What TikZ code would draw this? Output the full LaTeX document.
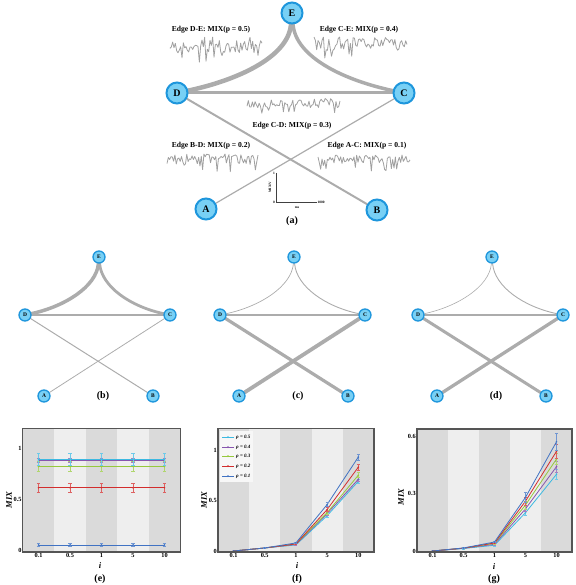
\documentclass[tikz,border=0pt]{standalone}
\usepackage{fontspec}
\setmainfont{Liberation Serif}
\definecolor{vring}{RGB}{30,150,220}
\definecolor{vfill}{RGB}{120,208,245}
\definecolor{egray}{RGB}{172,172,172}
\definecolor{sgray}{RGB}{160,160,160}
\definecolor{cA}{RGB}{60,185,225}
\definecolor{cB}{RGB}{135,85,175}
\definecolor{cC}{RGB}{150,200,60}
\definecolor{cD}{RGB}{210,45,45}
\definecolor{cE}{RGB}{65,115,195}
\definecolor{sdark}{RGB}{218,218,218}
\definecolor{slight}{RGB}{238,238,238}
\definecolor{framec}{RGB}{85,85,85}
\newcommand{\trace}[6]{\pgfmathsetseed{#6}\draw[sig] plot[domain=#1:#2, samples=70] (\x,{#3+#4*rand+#5*(rnd<0.12)});}
\newcommand{\series}[2]{%
 \foreach \k/\v/\e [remember=\k as \pk (initially -1), remember=\v as \pv (initially 0)] in {#2}{%
   \ifnum\k>0 \draw[#1, line width=0.8pt] (\pk,\pv) -- (\k,\v);\fi
 }%
 \foreach \k/\v/\e in {#2}{%
   \draw[#1!75, line width=0.6pt] (\k,{\v-\e}) -- (\k,{\v+\e});
   \draw[#1!75, line width=0.6pt] ({\k-0.05},{\v-\e}) -- ({\k+0.05},{\v-\e}) ({\k-0.05},{\v+\e}) -- ({\k+0.05},{\v+\e});
   \fill[#1] (\k,\v) circle (0.9pt);
 }}
\newcommand{\smallgraph}[9]{%
 \node[vsmall] (#1E) at (#2+74,257) {E};
 \node[vsmall] (#1D) at (#2,315) {D};
 \node[vsmall] (#1C) at (#2+145,315) {C};
 \node[vsmall] (#1A) at (#2+19,396) {A};
 \node[vsmall] (#1B) at (#2+128,396) {B};
 \begin{scope}[on background layer]
 \draw[edge, line width=#3pt] (#1D) .. controls +(12:40pt) and +(-95:30pt) .. (#1E);
 \draw[edge, line width=#4pt] (#1C) .. controls +(168:40pt) and +(-85:30pt) .. (#1E);
 \draw[edge, line width=#5pt] (#1D) -- (#1C);
 \draw[edge, line width=#6pt] (#1D) -- (#1B);
 \draw[edge, line width=#7pt] (#1A) -- (#1C);
 \end{scope}
 \node[captxt] (#1L) at (#2+78,396) {#8};
}
\usetikzlibrary{backgrounds}
\begin{document}
\begin{tikzpicture}[x=1pt,y=-1pt,
  vbig/.style={circle, minimum size=21pt, inner sep=0pt, line width=2pt, draw=vring, fill=vfill, font=\bfseries\fontsize{10}{10}\selectfont},
  vsmall/.style={vbig, minimum size=12pt, line width=1.3pt, font=\bfseries\fontsize{5.5}{5.5}\selectfont},
  edge/.style={draw=egray, line cap=round},
  sig/.style={draw=sgray, line width=0.8pt, line join=round},
  lab/.style={font=\bfseries\fontsize{7.6}{8}\selectfont},
  captxt/.style={font=\bfseries\fontsize{10}{11}\selectfont},
  tick/.style={font=\bfseries\fontsize{6.3}{6.3}\selectfont, inner sep=1pt},
  axl/.style={font=\bfseries\itshape\fontsize{8.5}{9}\selectfont, inner sep=0pt},
  leg/.style={font=\bfseries\itshape\fontsize{5}{5}\selectfont, inner sep=0pt, anchor=west}]
\useasboundingbox (0,0) rectangle (575,585);
% ---------- panel (a)
\node[vbig] (aE) at (292,13) {E};
\node[vbig] (aD) at (177,93) {D};
\node[vbig] (aC) at (404,93) {C};
\node[vbig] (aA) at (206,209) {A};
\node[vbig] (aB) at (377,210) {B};
\begin{scope}[on background layer]
\draw[edge, line width=4.5pt] (aD) .. controls +(12:60pt) and +(-95:45pt) .. (aE);
\draw[edge, line width=3.5pt] (aC) .. controls +(168:60pt) and +(-85:45pt) .. (aE);
\draw[edge, line width=3pt] (aD) -- (aC);
\draw[edge, line width=2pt] (aD) -- (aB);
\draw[edge, line width=1.2pt] (aA) -- (aC);
\end{scope}
\node[lab] (lDE) at (211,30) {Edge D-E: MIX(p = 0.5)};
\node[lab] (lCE) at (359,30) {Edge C-E: MIX(p = 0.4)};
\node[lab] (lCD) at (292,126) {Edge C-D: MIX(p = 0.3)};
\node[lab] (lBD) at (211,146) {Edge B-D: MIX(p = 0.2)};
\node[lab] (lAC) at (367,146) {Edge A-C: MIX(p = 0.1)};
\trace{170}{262}{45}{8}{10}{11}
\trace{314}{407}{44}{7}{10}{23}
\trace{247}{340}{103}{4.5}{6}{37}
\trace{167}{258}{159}{5}{9}{41}
\trace{318}{410}{159}{4}{8}{53}
\coordinate (sbT) at (276,173);
\coordinate (sbO) at (276,202);
\coordinate (sbR) at (317,202);
\draw[black!75, line width=0.9pt] (sbT) -- (sbO) -- (sbR);
\node[font=\bfseries\fontsize{3.5}{4}\selectfont, anchor=east, inner sep=1pt] (sb1) at (sbT) {1};
\node[font=\bfseries\fontsize{3.5}{4}\selectfont, anchor=east, inner sep=1pt] (sb0) at (sbO) {0};
\node[font=\bfseries\fontsize{3.5}{4}\selectfont, anchor=west, inner sep=0.5pt] (sbk) at (sbR) {1000};
\node[font=\bfseries\fontsize{3.5}{4}\selectfont] (sbms) at (297,208) {ms};
\node[font=\bfseries\fontsize{3.5}{4}\selectfont, rotate=90] (sbv) at (270,187) {MIX/V};
\node[captxt] (la) at (292,221) {(a)};
% ---------- panels (b)(c)(d)
\smallgraph{b}{25}{3.5}{2.8}{2.3}{1}{0.8}{(b)}{}
\smallgraph{c}{220}{0.7}{0.9}{1.8}{3.2}{3.8}{(c)}{}
\smallgraph{d}{418}{0.6}{0.9}{1.3}{3}{3.3}{(d)}{}
% ---------- chart (e)
\begin{scope}[shift={(38.5,550)}, x=31.5pt, y=102pt]
 \foreach \k in {0,2,4} \fill[sdark] ({\k-0.5},-0.02) rectangle ({\k+0.5},1.19);
 \foreach \k in {1,3} \fill[slight] ({\k-0.5},-0.02) rectangle ({\k+0.5},1.19);
 \foreach \v/\t in {0/0,0.5/0.5,1/1} \node[tick, anchor=east] at (-0.5,\v) {\t};
 \foreach \k/\t in {0/0.1,1/0.5,2/1,3/5,4/10} \node[tick, anchor=north] at (\k,-0.02) {\t};
 \series{cE}{0/0.05/0.015,1/0.05/0.015,2/0.05/0.015,3/0.05/0.015,4/0.05/0.015}
 \series{cD}{0/0.61/0.045,1/0.61/0.04,2/0.61/0.04,3/0.61/0.04,4/0.61/0.045}
 \series{cC}{0/0.82/0.05,1/0.82/0.05,2/0.82/0.05,3/0.82/0.05,4/0.82/0.05}
 \series{cB}{0/0.875/0.02,1/0.875/0.02,2/0.875/0.02,3/0.875/0.02,4/0.875/0.02}
 \series{cA}{0/0.89/0.06,1/0.89/0.06,2/0.89/0.06,3/0.89/0.06,4/0.89/0.06}
 \draw[framec, line width=1.4pt] (-0.5,-0.02) rectangle (4.5,1.19);
\end{scope}
\node[axl, rotate=90] (eY) at (9,500) {MIX};
\node[axl] (eX) at (100,566) {i};
\node[captxt] (le) at (100,579) {(e)};
% ---------- chart (f)
\begin{scope}[shift={(233.5,551)}, x=31.2pt, y=101pt]
 \foreach \k in {0,2,4} \fill[sdark] ({\k-0.5},-0.01) rectangle ({\k+0.5},1.21);
 \foreach \k in {1,3} \fill[slight] ({\k-0.5},-0.01) rectangle ({\k+0.5},1.21);
 \foreach \v/\t in {0/0,0.5/0.5,1/1} \node[tick, anchor=east] at (-0.5,\v) {\t};
 \foreach \k/\t in {0/0.1,1/0.5,2/1,3/5,4/10} \node[tick, anchor=north] at (\k,-0.01) {\t};
 \series{cA}{0/0/0,1/0.03/0.003,2/0.06/0.005,3/0.35/0.015,4/0.69/0.02}
 \series{cB}{0/0/0,1/0.03/0.003,2/0.065/0.005,3/0.37/0.015,4/0.71/0.02}
 \series{cC}{0/0/0,1/0.03/0.003,2/0.07/0.005,3/0.38/0.015,4/0.75/0.025}
 \series{cD}{0/0/0,1/0.03/0.003,2/0.07/0.005,3/0.41/0.02,4/0.83/0.03}
 \series{cE}{0/0/0,1/0.03/0.003,2/0.08/0.005,3/0.46/0.02,4/0.93/0.03}
 \draw[framec, line width=1.4pt] (-0.5,-0.01) rectangle (4.5,1.21);
\end{scope}
\fill[white!50!slight] (220,431) rectangle (253,482);
\foreach \c/\t/\y in {cA/0.5/437,cB/0.4/447,cC/0.3/456,cD/0.2/466,cE/0.1/476}{
 \draw[\c, line width=0.8pt] (222,\y) -- (234,\y);
 \fill[\c] (228,\y) circle (1pt);
 \node[leg] at (236,\y) {ρ = \t};
}
\node[axl, rotate=90] (fY) at (204,500) {MIX};
\node[axl] (fX) at (297,566) {i};
\node[captxt] (lf) at (297,579) {(f)};
% ---------- chart (g)
\begin{scope}[shift={(432.5,551)}, x=31pt, y=191.7pt]
 \foreach \k in {0,2,4} \fill[sdark] ({\k-0.5},-0.005) rectangle ({\k+0.5},0.636);
 \foreach \k in {1,3} \fill[slight] ({\k-0.5},-0.005) rectangle ({\k+0.5},0.636);
 \foreach \v/\t in {0/0,0.3/0.3,0.6/0.6} \node[tick, anchor=east] at (-0.5,\v) {\t};
 \foreach \k/\t in {0/0.1,1/0.5,2/1,3/5,4/10} \node[tick, anchor=north] at (\k,-0.005) {\t};
 \series{cA}{0/0/0,1/0.013/0.002,2/0.03/0.004,3/0.20/0.015,4/0.40/0.025}
 \series{cB}{0/0/0,1/0.014/0.002,2/0.035/0.004,3/0.22/0.015,4/0.44/0.03}
 \series{cC}{0/0/0,1/0.015/0.002,2/0.04/0.004,3/0.24/0.02,4/0.48/0.03}
 \series{cD}{0/0/0,1/0.015/0.002,2/0.042/0.004,3/0.26/0.02,4/0.52/0.035}
 \series{cE}{0/0/0,1/0.016/0.002,2/0.047/0.004,3/0.28/0.025,4/0.57/0.045}
 \draw[framec, line width=1.4pt] (-0.5,-0.005) rectangle (4.5,0.636);
\end{scope}
\node[axl, rotate=90] (gY) at (401,497) {MIX};
\node[axl] (gX) at (494,567) {i};
\node[captxt] (lg) at (494,579) {(g)};
\end{tikzpicture}
\end{document}
